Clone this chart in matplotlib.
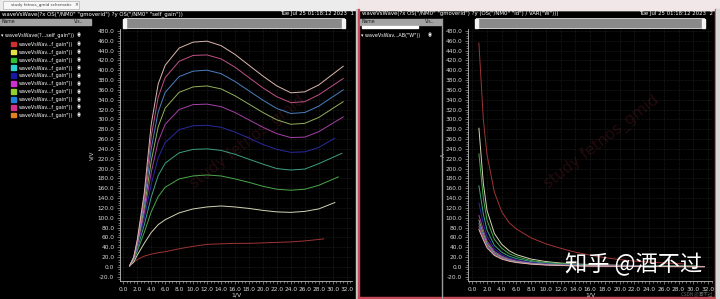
import numpy as np
import matplotlib.pyplot as plt
from matplotlib.patches import Rectangle
from matplotlib.ticker import MultipleLocator, FormatStrFormatter

W, H = 720, 299

# gm/Id sweep (1/V), shared grid; last point of each curve is at gm_end
gm_id = [0.9, 1.5, 2, 3, 4, 5, 6, 8, 10, 12, 14, 16, 18, 20, 22, 24, 26, 28]
gm_end = [28.7, 30.3, 30.8, 31.3, 30.3, 31.5, 31.5, 31.5, 31.5, 31.5]

wave_colors = ['#a03434', '#d4d4b4', '#4aa84a', '#3ca084', '#2a2aa0',
               '#a840a8', '#92b05c', '#4a80c0', '#c05086', '#dcb8ac']
legend_colors = ['#d03030', '#e8e040', '#30c030', '#30d0d0', '#1818a0',
                 '#d030d0', '#90d030', '#2080e0', '#d03090', '#e08020']

# self_gain (V/V)
self_gain = [
    [2, 10, 15, 22, 26, 29, 31, 37, 42, 46, 47, 48, 48, 49, 50, 51, 53, 56, 57],
    [2, 10, 24, 48, 70, 86, 96, 110, 118, 122, 124, 122, 119, 115, 112, 111, 113, 118, 131],
    [2, 13, 32, 70, 112, 143, 162, 179, 185, 187, 185, 179, 172, 164, 158, 156, 158, 166, 183],
    [2, 15, 37, 85, 142, 186, 211, 232, 239, 240, 237, 229, 219, 209, 200, 197, 199, 210, 231],
    [2, 16, 40, 98, 168, 222, 253, 279, 287, 288, 284, 274, 262, 249, 239, 233, 234, 243, 262],
    [2, 17, 44, 110, 192, 255, 290, 320, 330, 331, 326, 314, 299, 284, 271, 263, 264, 275, 305],
    [2, 18, 47, 120, 215, 285, 323, 355, 366, 368, 362, 348, 331, 314, 299, 290, 292, 304, 336],
    [2, 19, 50, 130, 240, 315, 355, 387, 398, 400, 393, 377, 358, 339, 322, 312, 314, 327, 360],
    [2, 20, 52, 140, 265, 345, 385, 418, 430, 431, 423, 406, 385, 364, 346, 334, 336, 350, 383],
    [2, 20, 55, 150, 290, 372, 410, 445, 457, 459, 450, 432, 410, 388, 368, 354, 356, 370, 408],
]

# id / W (A)
id_w = [
    [455, 300, 228, 152, 112, 90, 77, 59, 47, 38, 30, 24, 19, 15, 12, 10, 8, 7, 6],
    [282, 170, 115, 68, 46, 33, 25, 16, 11, 8, 6, 5, 4, 3.5, 3, 2.5, 2, 2, 1.8],
    [230, 140, 95, 56, 38, 27, 21, 13, 9, 7, 5, 4, 3.3, 2.8, 2.4, 2, 1.8, 1.6, 1.4],
    [165, 108, 75, 44, 30, 22, 17, 11, 7.5, 5.6, 4.3, 3.5, 2.9, 2.4, 2, 1.7, 1.5, 1.3, 1.1],
    [130, 88, 62, 37, 25, 18.5, 14, 9, 6.3, 4.7, 3.6, 2.9, 2.4, 2, 1.7, 1.4, 1.2, 1.1, 0.9],
    [105, 75, 53, 32, 22, 16, 12.3, 8, 5.5, 4.1, 3.2, 2.6, 2.1, 1.8, 1.5, 1.3, 1.1, 1, 0.8],
    [95, 68, 48, 29, 20, 14.5, 11, 7.2, 5, 3.7, 2.9, 2.3, 1.9, 1.6, 1.4, 1.2, 1, 0.9, 0.7],
    [88, 63, 45, 27, 18.5, 13.5, 10.3, 6.7, 4.6, 3.4, 2.7, 2.1, 1.8, 1.5, 1.3, 1.1, 0.9, 0.8, 0.7],
    [82, 59, 42, 25, 17.3, 12.6, 9.6, 6.2, 4.3, 3.2, 2.5, 2, 1.7, 1.4, 1.2, 1, 0.9, 0.8, 0.6],
    [76, 55, 39, 23.5, 16, 11.8, 9, 5.8, 4, 3, 2.3, 1.9, 1.6, 1.3, 1.1, 1, 0.8, 0.7, 0.6],
]

left_title = 'waveVsWave(?x OS("/NM0" "gmoverid") ?y OS("/NM0" "self_gain"))'
right_title = 'waveVsWave(?x OS("/NM0" "gmoverid") ?y (OS("/NM0" "id") / VAR("W")))'
date_text = 'Tue Jul 25 01:18:12 2023'

fig = plt.figure(figsize=(7.2, 2.99), dpi=100, facecolor='black')


def box(px, py, pw, ph):
    return [px / W, 1 - (py + ph) / H, pw / W, ph / H]


def rect(px, py, pw, ph, **kw):
    fig.patches.append(Rectangle((px / W, 1 - (py + ph) / H), pw / W, ph / H,
                                 transform=fig.transFigure, **kw))


def ftext(px, py, s, **kw):
    kw.setdefault('color', 'white')
    kw.setdefault('fontsize', 4.2)
    kw.setdefault('va', 'center')
    fig.text(px / W, 1 - py / H, s, **kw)


# window chrome
rect(0, 0, 720, 10, color='#ececec', zorder=0)
rect(358, 0, 362, 10, color='#f1e6e8', zorder=0)
rect(3, 1, 76, 8, facecolor='#f8f8f8', edgecolor='#b0b0b0', lw=0.5)
ftext(11, 5, 'study fetnos_gmid schematic', color='#404040', fontsize=3.0)
ftext(74, 5, '×', color='#404040', fontsize=3.3)
rect(356, 9, 2, 290, color='#c8c8c8')
rect(358, 9, 1.2, 290, color='#c84a58')
rect(715, 9, 1.2, 290, color='#c84a58')
rect(358, 297, 358, 1.2, color='#c84a58')
rect(716.2, 9, 4, 290, color='#d8d8d8')
rect(441.5, 18, 0.8, 281, color='#9a9a9a')

ftext(2, 14, left_title, fontsize=3.9)
ftext(354, 14, date_text + '  1', fontsize=3.9, ha='right')
ftext(362, 14, right_title, fontsize=3.9)
ftext(713, 14, date_text + '  2', fontsize=3.9, ha='right')

# legend panels
rect(0, 19, 91, 5.5, color='#a4a4a4')
ftext(2, 21.7, 'Name', color='#202020', fontsize=3.3)
ftext(74, 21.7, 'Vis..', color='#202020', fontsize=3.3)
ftext(1, 35, '▾ waveVsWave(?...self_gain"))', fontsize=3.5)
ftext(79, 35, '◉', fontsize=3.3, ha='center')
for i, c in enumerate(legend_colors):
    y = 44 + i * 7.9
    rect(11, y - 2.3, 5, 4.6, color=c)
    ftext(19, y, 'waveVsWav...f_gain"))', fontsize=3.5)
    ftext(79, y, '◉', fontsize=3.3, ha='center')

rect(360, 19, 81, 5.5, color='#a4a4a4')
ftext(362, 21.7, 'Name', color='#202020', fontsize=3.3)
ftext(425, 21.7, 'Vis..', color='#202020', fontsize=3.3)
rect(362, 25.5, 56, 2, color='white')
ftext(361, 35, '▾ waveVsWav...AB("W"))', fontsize=3.5)
ftext(430, 35, '◉', fontsize=3.3, ha='center')


def setup(ax, xlim):
    ax.set_facecolor('black')
    ax.set_xlim(*xlim)
    ax.set_ylim(-28.5, 483.7)
    ax.xaxis.set_minor_locator(MultipleLocator(0.5))
    ax.yaxis.set_minor_locator(MultipleLocator(5))
    ax.set_xticks(np.arange(0, 33, 2))
    ax.set_yticks(np.arange(-20, 481, 20))
    ax.xaxis.set_major_formatter(FormatStrFormatter('%.1f'))
    ax.yaxis.set_major_formatter(FormatStrFormatter('%.1f'))
    for s in ['top', 'right']:
        ax.spines[s].set_visible(False)
    for s in ['left', 'bottom']:
        ax.spines[s].set_color('#bdbdbd')
        ax.spines[s].set_linewidth(0.6)
    ax.tick_params(which='both', colors='#bdbdbd', labelcolor='#d8d8d8',
                   labelsize=4.2, width=0.4, pad=1.5)
    ax.tick_params(which='major', length=2.5)
    ax.tick_params(which='minor', length=1.3)
    ax.grid(True, which='major', color='#363636', lw=0.4, ls=(0, (1, 1.5)))
    ax.set_xlabel('1/V', color='#d8d8d8', fontsize=4.5, labelpad=0.5)


def strip(px, pw, xlim, data):
    rect(px - 2, 18, pw + 4, 10, facecolor='#8a8a8a', edgecolor='#e0e0e0', lw=0.6)
    rect(px - 3, 18.5, 3, 9, color='#f4f4f4')
    rect(px + pw, 18.5, 3, 9, color='#f4f4f4')
    sa = fig.add_axes(box(px, 19.5, pw, 7.5))
    sa.set_facecolor('#7c7c7c')
    sa.set_xlim(*xlim)
    sa.set_ylim(-20, 480)
    for c, vals, xe in zip(wave_colors, data, gm_end):
        sa.plot(gm_id + [xe], vals, color=c, lw=0.7)
    sa.axis('off')


# left chart: self gain vs gm/Id
ax1 = fig.add_axes(box(120, 29, 232, 252))
setup(ax1, (-0.47, 32.76))
for c, vals, xe in zip(wave_colors, self_gain, gm_end):
    ax1.plot(gm_id + [xe], vals, color=c, lw=0.7)
ax1.set_ylabel('V/V', color='#d8d8d8', fontsize=4.0)
ax1.yaxis.set_label_coords(-0.11, 0.5)
strip(126, 216, (-0.47, 32.76), self_gain)

# right chart: Id/W vs gm/Id
ax2 = fig.add_axes(box(468, 29, 244, 252))
setup(ax2, (-0.58, 32.53))
for c, vals, xe in zip(wave_colors, id_w, gm_end):
    ax2.plot(gm_id + [xe], vals, color=c, lw=0.7)
ax2.set_ylabel('A', color='#d8d8d8', fontsize=4.0)
ax2.yaxis.set_label_coords(-0.092, 0.5)
strip(478, 224, (-0.58, 32.53), id_w)

# faint tool watermark inside the plots
for ax in (ax1, ax2):
    ax.text(0.55, 0.55, 'study fetnos_gmid', transform=ax.transAxes, rotation=38,
            color='#220a0d', fontsize=11, ha='center', va='center', zorder=0.5)

ftext(565, 265, '知乎 @酒不过', fontsize=16, family=['Noto Sans CJK SC', 'DejaVu Sans'],
      color='white')
ftext(712, 294.5, 'CSDN @酒不过', fontsize=3.3, ha='right', color='#6a6a6a',
      family=['Noto Sans CJK SC', 'DejaVu Sans'])

fig.savefig('out.png', dpi=100, facecolor=fig.get_facecolor())
